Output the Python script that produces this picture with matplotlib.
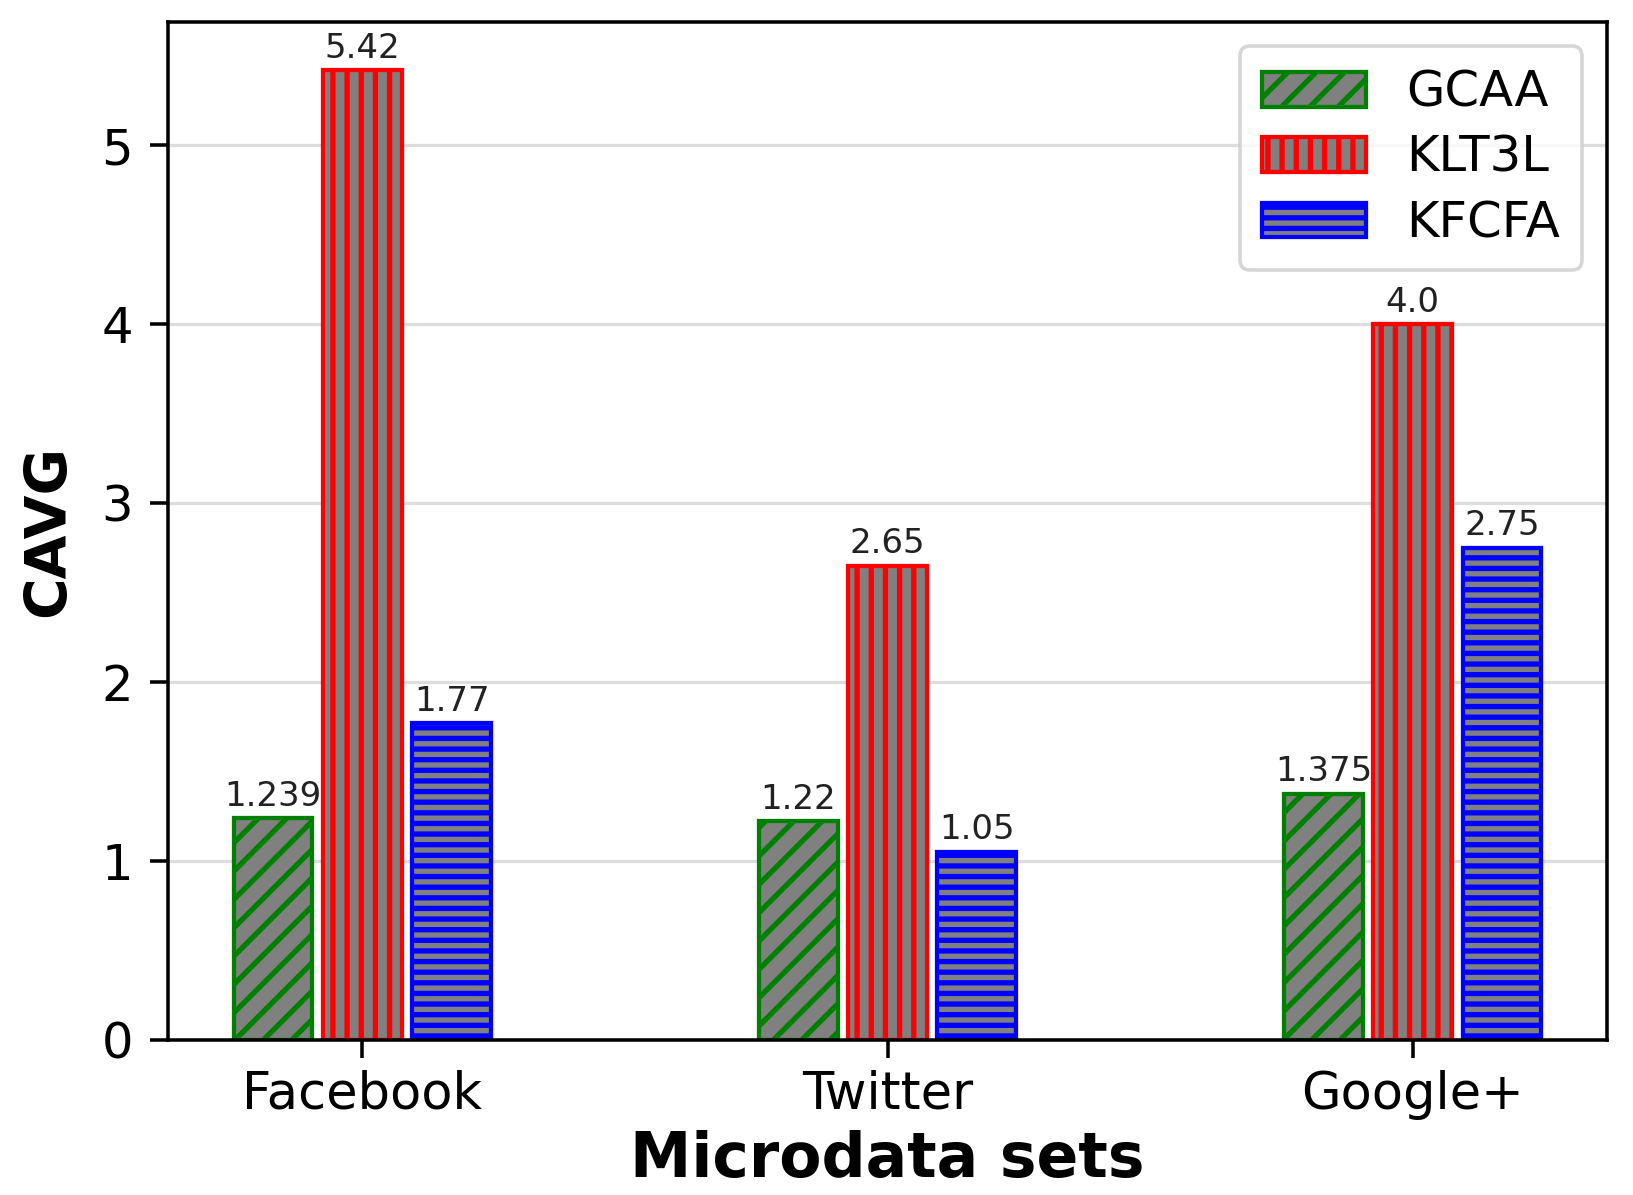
import numpy as np
import matplotlib.pyplot as plt

# data
datasets = ["Facebook", "Twitter", "Google+"]
methods = ["GCAA", "KLT3L", "KFCFA"]
gcaa = [1.239, 1.22, 1.375]
klt3l = [5.42, 2.65, 4.0]
kfcfa = [1.77, 1.05, 2.75]

edge_colors = ["green", "red", "blue"]
hatches = ["///", "|||", "----"]

plt.rcParams["hatch.linewidth"] = 1.5

fig = plt.figure(figsize=(1633 / 255, 1195 / 255), dpi=255)
ax = fig.add_axes([0.103, 0.130, 0.881, 0.852])

x = np.arange(len(datasets))
offset = 0.17
width = 0.15

for i, (vals, name) in enumerate(zip([gcaa, klt3l, kfcfa], methods)):
    bars = ax.bar(x + (i - 1) * offset, vals, width,
                  color="gray", edgecolor=edge_colors[i],
                  hatch=hatches[i], linewidth=1.2, label=name)
    ax.bar_label(bars, labels=[str(v) for v in vals], padding=1.5,
                 fontsize=9.6, color="#222222")

ax.set_xticks(x)
ax.set_xticklabels(datasets)
ax.tick_params(axis="both", labelsize=14, length=5, width=1.0, pad=5)
ax.tick_params(axis="x", labelsize=14.4, pad=3.5)
ax.set_xlabel("Microdata sets", fontsize=17.4, fontweight="bold", labelpad=3)
ax.set_ylabel("CAVG", fontsize=16, fontweight="bold", labelpad=7)

ax.yaxis.grid(True, color="#dddddd", linewidth=0.9)
ax.set_axisbelow(True)
for sp in ax.spines.values():
    sp.set_linewidth(1.0)

ax.legend(loc="upper right", fontsize=14, borderpad=0.45,
          labelspacing=0.35, handlelength=2.1, handletextpad=0.8)

fig.savefig("out.png", dpi=255)
